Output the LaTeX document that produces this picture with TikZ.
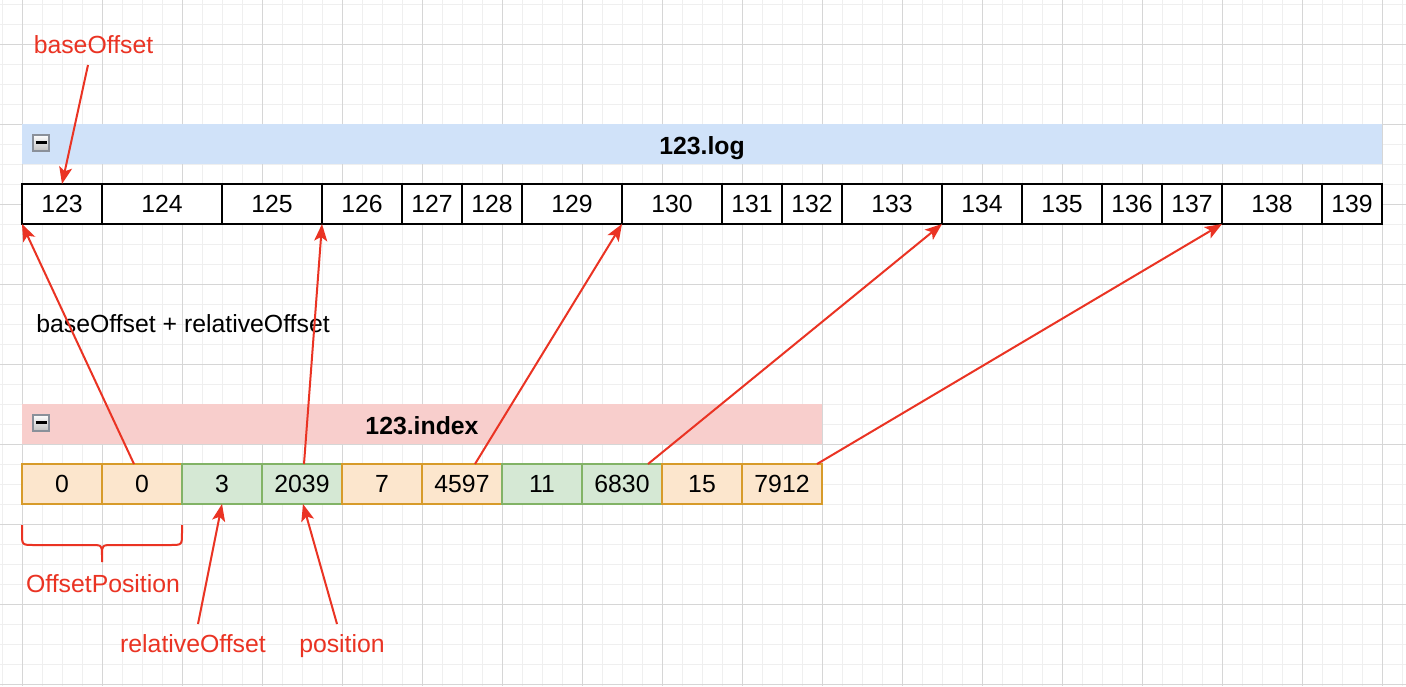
\documentclass[tikz,border=0pt]{standalone}
\usepackage{fontspec}
\setmainfont{Liberation Sans}
\usetikzlibrary{arrows.meta,calc}
\definecolor{gridminor}{HTML}{EFEFEF}
\definecolor{gridmajor}{HTML}{D6D6D6}
\definecolor{logfill}{HTML}{D0E2F9}
\definecolor{idxfill}{HTML}{F8CECC}
\definecolor{ofill}{HTML}{FCE6CD}
\definecolor{ostroke}{HTML}{D79B2A}
\definecolor{gfill}{HTML}{D5E8D4}
\definecolor{gstroke}{HTML}{82B366}
\definecolor{annred}{HTML}{EA3323}
\definecolor{iconborder}{HTML}{8A909A}
\tikzset{
  every node/.style={font=\fontsize{24.8}{29}\selectfont, inner sep=0pt, outer sep=0pt},
  logcell/.style={draw=black, line width=2pt, fill=white, minimum height=40pt},
  icell/.style={line width=2pt, minimum width=80pt, minimum height=40pt},
  ocell/.style={icell, draw=ostroke, fill=ofill},
  gcell/.style={icell, draw=gstroke, fill=gfill},
  hdrtext/.style={font=\fontsize{24.8}{29}\selectfont\bfseries, anchor=base},
  redlabel/.style={text=annred, anchor=base},
  redarrow/.style={draw=annred, line width=2pt, -{Stealth[length=17pt,width=13pt,inset=4pt]}},
  minusicon/.style={draw=iconborder, line width=2.2pt, top color=white, bottom color=black!25, minimum width=16.5pt, minimum height=16.5pt},
}
\begin{document}
\begin{tikzpicture}[x=1pt,y=-1pt]
\useasboundingbox (0,0) rectangle (1406,686);
\fill[white] (0,0) rectangle (1406,686);
% grid
\foreach \gx in {2,22,...,1402} \draw[gridminor, line width=1pt] (\gx,0) -- (\gx,686);
\foreach \gy in {4,24,...,684} \draw[gridminor, line width=1pt] (0,\gy) -- (1406,\gy);
\foreach \gx in {22,102,...,1402} \draw[gridmajor, line width=1pt] (\gx,0) -- (\gx,686);
\foreach \gy in {44,124,...,684} \draw[gridmajor, line width=1pt] (0,\gy) -- (1406,\gy);

% log header
\node[fill=logfill, minimum width=1360pt, minimum height=40pt, anchor=north west] (loghdr) at (22,124) {};
\node[minusicon] (logicon) at (41,143) {};
\draw[line width=2.2pt] ($(logicon.center)+(-5.5,-0.5)$) -- ($(logicon.center)+(5.5,-0.5)$);
\node[hdrtext] (logtitle) at (702,154) {123.log};

% log cells
\foreach \t/\x/\w in {123/22/80,124/102/120,125/222/100,126/322/80,127/402/60,128/462/60,129/522/100,130/622/100,131/722/60,132/782/60,133/842/100,134/942/80,135/1022/80,136/1102/60,137/1162/60,138/1222/100,139/1322/60}
  \node[logcell, minimum width=\w pt, anchor=north west] (l\t) at (\x,184) {\t};

% index header
\node[fill=idxfill, minimum width=800pt, minimum height=40pt, anchor=north west] (idxhdr) at (22,404) {};
\node[minusicon] (idxicon) at (41,423) {};
\draw[line width=2.2pt] ($(idxicon.center)+(-5.5,-0.5)$) -- ($(idxicon.center)+(5.5,-0.5)$);
\node[hdrtext] (idxtitle) at (422,434) {123.index};

% index cells
\foreach \t/\s [count=\i from 0] in {0/ocell,0/ocell,3/gcell,2039/gcell,7/ocell,4597/ocell,11/gcell,6830/gcell,15/ocell,7912/ocell}
  \node[\s, anchor=north west] (i\i) at ({22+80*\i},464) {\t};

% labels
\node[redlabel] (bo) at (93.5,53) {baseOffset};
\node[anchor=base] (sum) at (183,332) {baseOffset + relativeOffset};
\node[redlabel] (op) at (103,592) {OffsetPosition};
\node[redlabel] (ro) at (193,652) {relativeOffset};
\node[redlabel] (po) at (342,652) {position};

% arrows
\coordinate (bostart) at (88,65);
\draw[redarrow] (bostart) -- (l123.north);
\draw[redarrow] ($(i1.north)+(-8,0)$) -- (l123.south west);
\draw[redarrow] ($(i3.north)+(2,0)$) -- (l126.south west);
\draw[redarrow] ($(i5.north)+(13,0)$) -- (l130.south west);
\draw[redarrow] ($(i7.north)+(26,0)$) -- (l134.south west);
\draw[redarrow] ($(i9.north)+(35,0)$) -- (l138.south west);
\coordinate (rostart) at (198,624);
\coordinate (postart) at (337,624);
\draw[redarrow] (rostart) -- (i2.south);
\draw[redarrow] (postart) -- ($(i3.south)+(1,0)$);

% brace
\draw[annred, line width=2pt, line join=round]
  (22,525) -- (22,533) .. controls (22,545) .. (34,545) -- (90,545)
  .. controls (102,545) .. (102,555) -- (102,562)
  (102,555) .. controls (102,545) .. (114,545) -- (170,545)
  .. controls (182,545) .. (182,533) -- (182,525);
\end{tikzpicture}
\end{document}
